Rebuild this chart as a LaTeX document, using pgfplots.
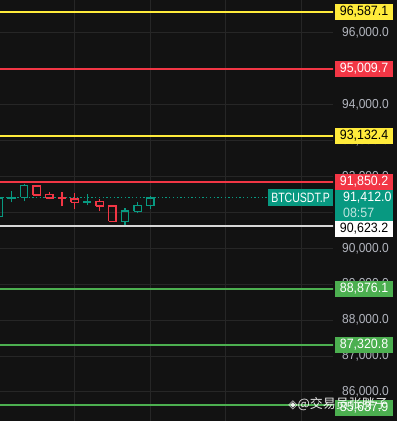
\documentclass[border=0pt]{standalone}
\usepackage{fontspec}
\setmainfont{Liberation Sans}
\newfontfamily\numf[FakeStretch=0.92]{Liberation Sans}
\newfontfamily\symf[FakeStretch=0.78]{Liberation Sans}
\newfontfamily\cjk{Noto Sans CJK SC}
\newfontfamily\dvs{DejaVu Sans}
\usepackage{pgfplots}
\pgfplotsset{compat=1.18}
\definecolor{bg}{HTML}{121212}
\definecolor{gridc}{HTML}{262626}
\definecolor{yel}{HTML}{FFEB3B}
\definecolor{rd}{HTML}{F23645}
\definecolor{gr}{HTML}{089981}
\definecolor{grn}{HTML}{4CAF50}
\definecolor{wht}{HTML}{D6D6D6}
\definecolor{tickc}{HTML}{B2B5BE}
\begin{document}
\begin{tikzpicture}[
  lab/.style={minimum width=58pt, minimum height=16pt, inner sep=0pt, font=\numf\fontsize{13.5}{15}\selectfont},
  tk/.style={anchor=east, inner sep=0pt, text=tickc, font=\numf\fontsize{13}{15}\selectfont}]
\fill[bg] (0,0) rectangle (397pt,421pt);
\begin{axis}[at={(0pt,0pt)}, anchor=south west, width=333pt, height=421pt, scale only axis,
  xmin=0.08, xmax=26.508, ymin=85192, ymax=96919,
  axis line style={draw=none}, tick style={draw=none},
  xtick={0,6,12,18,24},
  ytick={86000,87000,88000,89000,90000,91000,92000,93000,94000,95000,96000},
  xticklabels={}, yticklabels={},
  grid=major, major grid style={draw=gridc, line width=1pt},
  clip mode=individual]
% level lines
\addplot[yel, line width=2pt] coordinates {(0,96587.1) (27,96587.1)};
\addplot[rd, line width=2pt] coordinates {(0,95009.7) (27,95009.7)};
\addplot[yel, line width=2pt] coordinates {(0,93132.4) (27,93132.4)};
\addplot[rd, line width=1.2pt] coordinates {(0,91850.2) (27,91850.2)};
\addplot[wht, line width=2.2pt] coordinates {(0,90623.2) (27,90623.2)};
\addplot[grn, line width=2pt] coordinates {(0,88876.1) (27,88876.1)};
\addplot[grn, line width=2pt] coordinates {(0,87320.8) (27,87320.8)};
\addplot[grn, line width=2pt] coordinates {(0,85637.9) (27,85637.9)};
% current price dotted line
\addplot[gr, line width=1.3pt, dash pattern=on 1.3pt off 2.4pt] coordinates {(0,91412) (21.35,91412)};
% candles: index / low / body bottom / body top / high / colour
\foreach \ci/\cl/\cb/\ct/\ch/\cc in {
 0/90860/90890/91404/91440/gr,
 1/91281/91400/91410/91607/gr,
 2/91309/91420/91747/91803/gr,
 3/91488/91488/91739/91739/rd,
 4/91365/91404/91496/91571/rd,
 5/91169/91405/91412/91580/rd,
 6/91086/91281/91376/91552/rd,
 7/91197/91290/91295/91524/gr,
 8/91030/91180/91300/91376/rd,
 9/90751/90751/91180/91180/rd,
 10/90650/90751/91041/91133/gr,
 11/90974/91030/91189/91281/gr,
 12/91105/91185/91404/91468/gr}{
 \pgfmathsetmacro\xa{\ci-0.29}
 \pgfmathsetmacro\xb{\ci+0.29}
 \edef\temp{\noexpand\addplot[draw=\cc, line width=1.3pt, line cap=square] coordinates {(\xa,\cb) (\xb,\cb) (\xb,\ct) (\xa,\ct) (\xa,\cb)};
  \noexpand\addplot[draw=\cc, line width=1.3pt] coordinates {(\ci,\ct) (\ci,\ch)};
  \noexpand\addplot[draw=\cc, line width=1.3pt] coordinates {(\ci,\cl) (\ci,\cb)};}
 \temp
}
% price scale labels
\node[tk] at (axis cs:30.95,96000) {96,000.0};
\node[tk] at (axis cs:30.95,95000) {95,000.0};
\node[tk] at (axis cs:30.95,94000) {94,000.0};
\node[tk] at (axis cs:30.95,93000) {93,000.0};
\node[tk] at (axis cs:30.95,92000) {92,000.0};
\node[tk] at (axis cs:30.95,91000) {91,000.0};
\node[tk] at (axis cs:30.95,90000) {90,000.0};
\node[tk] at (axis cs:30.95,89000) {89,000.0};
\node[tk] at (axis cs:30.95,88000) {88,000.0};
\node[tk] at (axis cs:30.95,87000) {87,000.0};
\node[tk] at (axis cs:30.95,86000) {86,000.0};
% level boxes
\node[lab, fill=yel, text=black] at (axis cs:28.97,96587.1) {96,587.1};
\node[lab, fill=rd, text=white] at (axis cs:28.97,95009.7) {95,009.7};
\node[lab, fill=yel, text=black] at (axis cs:28.97,93132.4) {93,132.4};
\node[lab, fill=rd, text=white, minimum height=16.5pt] at (axis cs:28.97,91850.2) {91,850.2};
\node[fill=gr, minimum width=58pt, minimum height=31pt, inner sep=0pt, anchor=north, yshift=8pt] at (axis cs:28.97,91412) {};
\node[anchor=west, inner sep=0pt, text=white, font=\numf\fontsize{13.5}{15}\selectfont] at (axis cs:27.30,91412) {91,412.0};
\node[anchor=west, inner sep=0pt, text=gr!25!white, font=\numf\fontsize{13.5}{15}\selectfont, yshift=-15pt] at (axis cs:27.30,91412) {08:57};
\node[lab, fill=white, text=black, yshift=-3pt] at (axis cs:28.97,90623.2) {90,623.2};
\node[lab, fill=grn, text=white] at (axis cs:28.97,88876.1) {88,876.1};
\node[lab, fill=grn, text=white] at (axis cs:28.97,87320.8) {87,320.8};
\node[lab, fill=grn, text=white, yshift=-3pt] at (axis cs:28.97,85637.9) {85,637.9};
% symbol tag
\node[fill=gr, text=white, minimum width=65pt, minimum height=17pt, inner sep=0pt, font=\symf\fontsize{13.5}{15}\selectfont] at (axis cs:23.93,91412) {BTCUSDT.P};
% watermark
\node[anchor=west, inner sep=0pt, text=white, opacity=0.9, font=\cjk\fontsize{13}{15}\selectfont] at (axis cs:22.95,85666) {{\dvs\fontsize{12}{14}\selectfont ◈}@交易员张胖子};
\end{axis}
\pgfresetboundingbox
\useasboundingbox (0,0) rectangle (397pt,421pt);
\end{tikzpicture}
\end{document}
